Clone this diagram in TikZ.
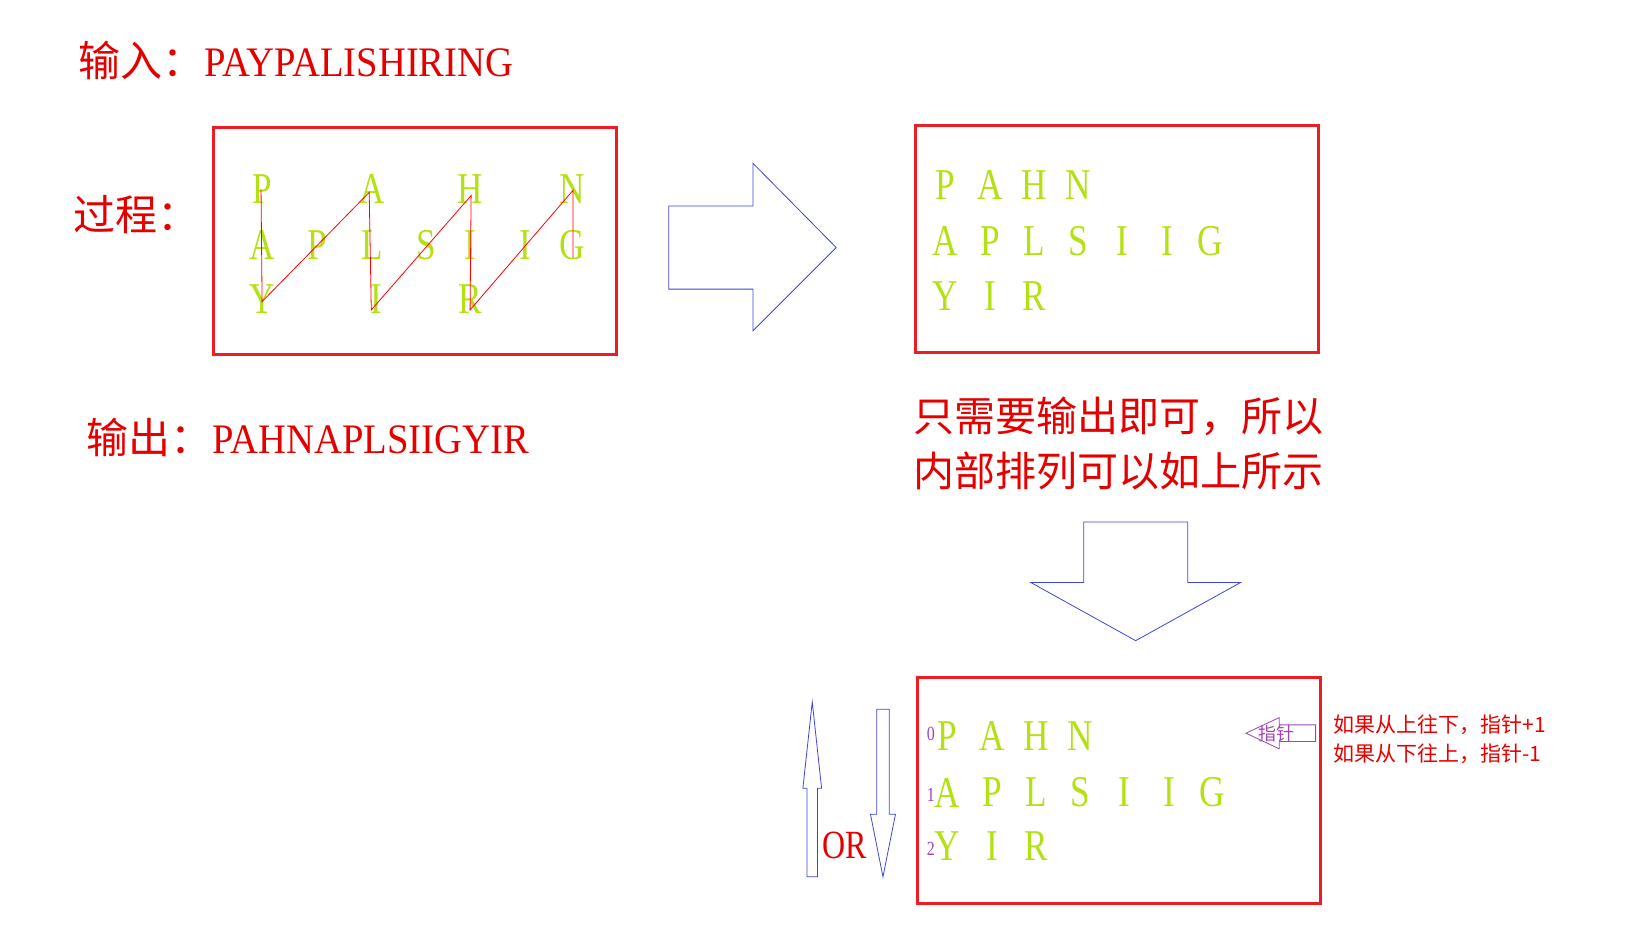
\documentclass[tikz,border=0pt]{standalone}
\usepackage{fontspec}
\setmainfont[FakeStretch=0.8]{Liberation Serif}
\newfontfamily\hdr[FakeStretch=0.92]{Liberation Serif}
\newfontfamily\cjk{Noto Sans CJK SC}
\begin{document}
\begin{tikzpicture}[x=1.04pt,y=-1.04pt,
  redtxt/.style={text=red!90!black,inner sep=0pt},
  lt/.style={text={rgb,255:red,180;green,225;blue,20},inner sep=0pt,font=\fontsize{44}{44}\selectfont},
  idx/.style={text={rgb,255:red,160;green,70;blue,180},inner sep=0pt,font=\fontsize{20}{20}\selectfont},
  rbox/.style={draw={rgb,255:red,235;green,30;blue,35},line width=3pt},
  blue arrow/.style={draw={rgb,255:red,60;green,70;blue,220},line width=0.8pt},
  zig/.style={draw=red,line width=0.8pt}]
\useasboundingbox (0,0) rectangle (1562.5,914.4);
\node[redtxt,anchor=west,font=\fontsize{42}{42}\selectfont\hdr] (inp) at (75,58) {{\cjk 输入：}PAYPALISHIRING};
\node[redtxt,anchor=west,font=\fontsize{42}{42}\selectfont] (proc) at (70,206) {\cjk 过程：};
\node[redtxt,anchor=west,font=\fontsize{42}{42}\selectfont\hdr] (out) at (83,421) {{\cjk 输出：}PAHNAPLSIIGYIR};
\draw[rbox] (205,123) rectangle (593,341);
\foreach \t/\x/\y [count=\i] in {P/252/182,A/358/182,H/452/182,N/550/182,A/252/236,P/305/236,L/358/236,S/410/236,I/452/236,I/505/236,G/550/236,Y/252/288,I/362/288,R/452/288}
  \node[lt] (z\i) at (\x,\y) {\t};
\coordinate (c1) at (251,182); \coordinate (c2) at (252,290); \coordinate (c3) at (355,185);
\coordinate (c4) at (357,298); \coordinate (c5) at (453,188); \coordinate (c6) at (452,298);
\coordinate (c7) at (551,183); \coordinate (c8) at (551,248);
\draw[zig] (c1)--(c2)--(c3)--(c4)--(c5)--(c6)--(c7)--(c8);
\draw[blue arrow] (643,198)--(724,198)--(724,157)--(804,238)--(724,318)--(724,278)--(643,278)--cycle;
\draw[rbox] (880,121) rectangle (1268,339);
\foreach \t/\x/\y [count=\i] in {P/909/178,A/952/178,H/994/178,N/1037/178,A/909/232,P/952/232,L/994/232,S/1037/232,I/1079/232,I/1122/232,G/1164/232,Y/909/285,I/952/285,R/994/285}
  \node[lt] (b\i) at (\x,\y) {\t};
\node[redtxt,anchor=west,font=\fontsize{41}{41}\selectfont\cjk] (n1) at (878,400) {只需要输出即可，所以};
\node[redtxt,anchor=west,font=\fontsize{41}{41}\selectfont\cjk] (n2) at (878,453) {内部排列可以如上所示};
\draw[blue arrow] (1042,502)--(1142,502)--(1142,560)--(1193,560)--(1092,616)--(991,560)--(1042,560)--cycle;
\draw[rbox] (882,651) rectangle (1270,869);
\foreach \t/\y [count=\i] in {0/706,1/764,2/816} \node[idx] (i\i) at (895,\y) {\t};
\foreach \t/\x/\y [count=\i] in {P/911/708,A/954/708,H/996/708,N/1039/708,A/911/762,P/954/762,L/996/762,S/1039/762,I/1081/762,I/1124/762,G/1166/762,Y/911/814,I/954/814,R/996/814}
  \node[lt] (d\i) at (\x,\y) {\t};
\draw[draw={rgb,255:red,160;green,70;blue,180},line width=0.8pt] (1198,705)--(1230,690)--(1230,697)--(1265,697)--(1265,713)--(1230,713)--(1230,720)--cycle;
\node[idx,font=\fontsize{18}{18}\selectfont\cjk] (ptr) at (1227,705) {指针};
\node[redtxt,anchor=west,font=\fontsize{21}{21}\selectfont\cjk] (r1) at (1282,697) {如果从上往下，指针+1};
\node[redtxt,anchor=west,font=\fontsize{21}{21}\selectfont\cjk] (r2) at (1282,725) {如果从下往上，指针-1};
\draw[blue arrow] (781,675)--(790,758)--(786,758)--(786,843)--(776,843)--(776,758)--(772,758)--cycle;
\draw[blue arrow] (843,682)--(855,682)--(855,783)--(861,783)--(849,843)--(837,783)--(843,783)--cycle;
\node[redtxt,font=\fontsize{40}{40}\selectfont] (or) at (812,813) {OR};
\end{tikzpicture}
\end{document}
